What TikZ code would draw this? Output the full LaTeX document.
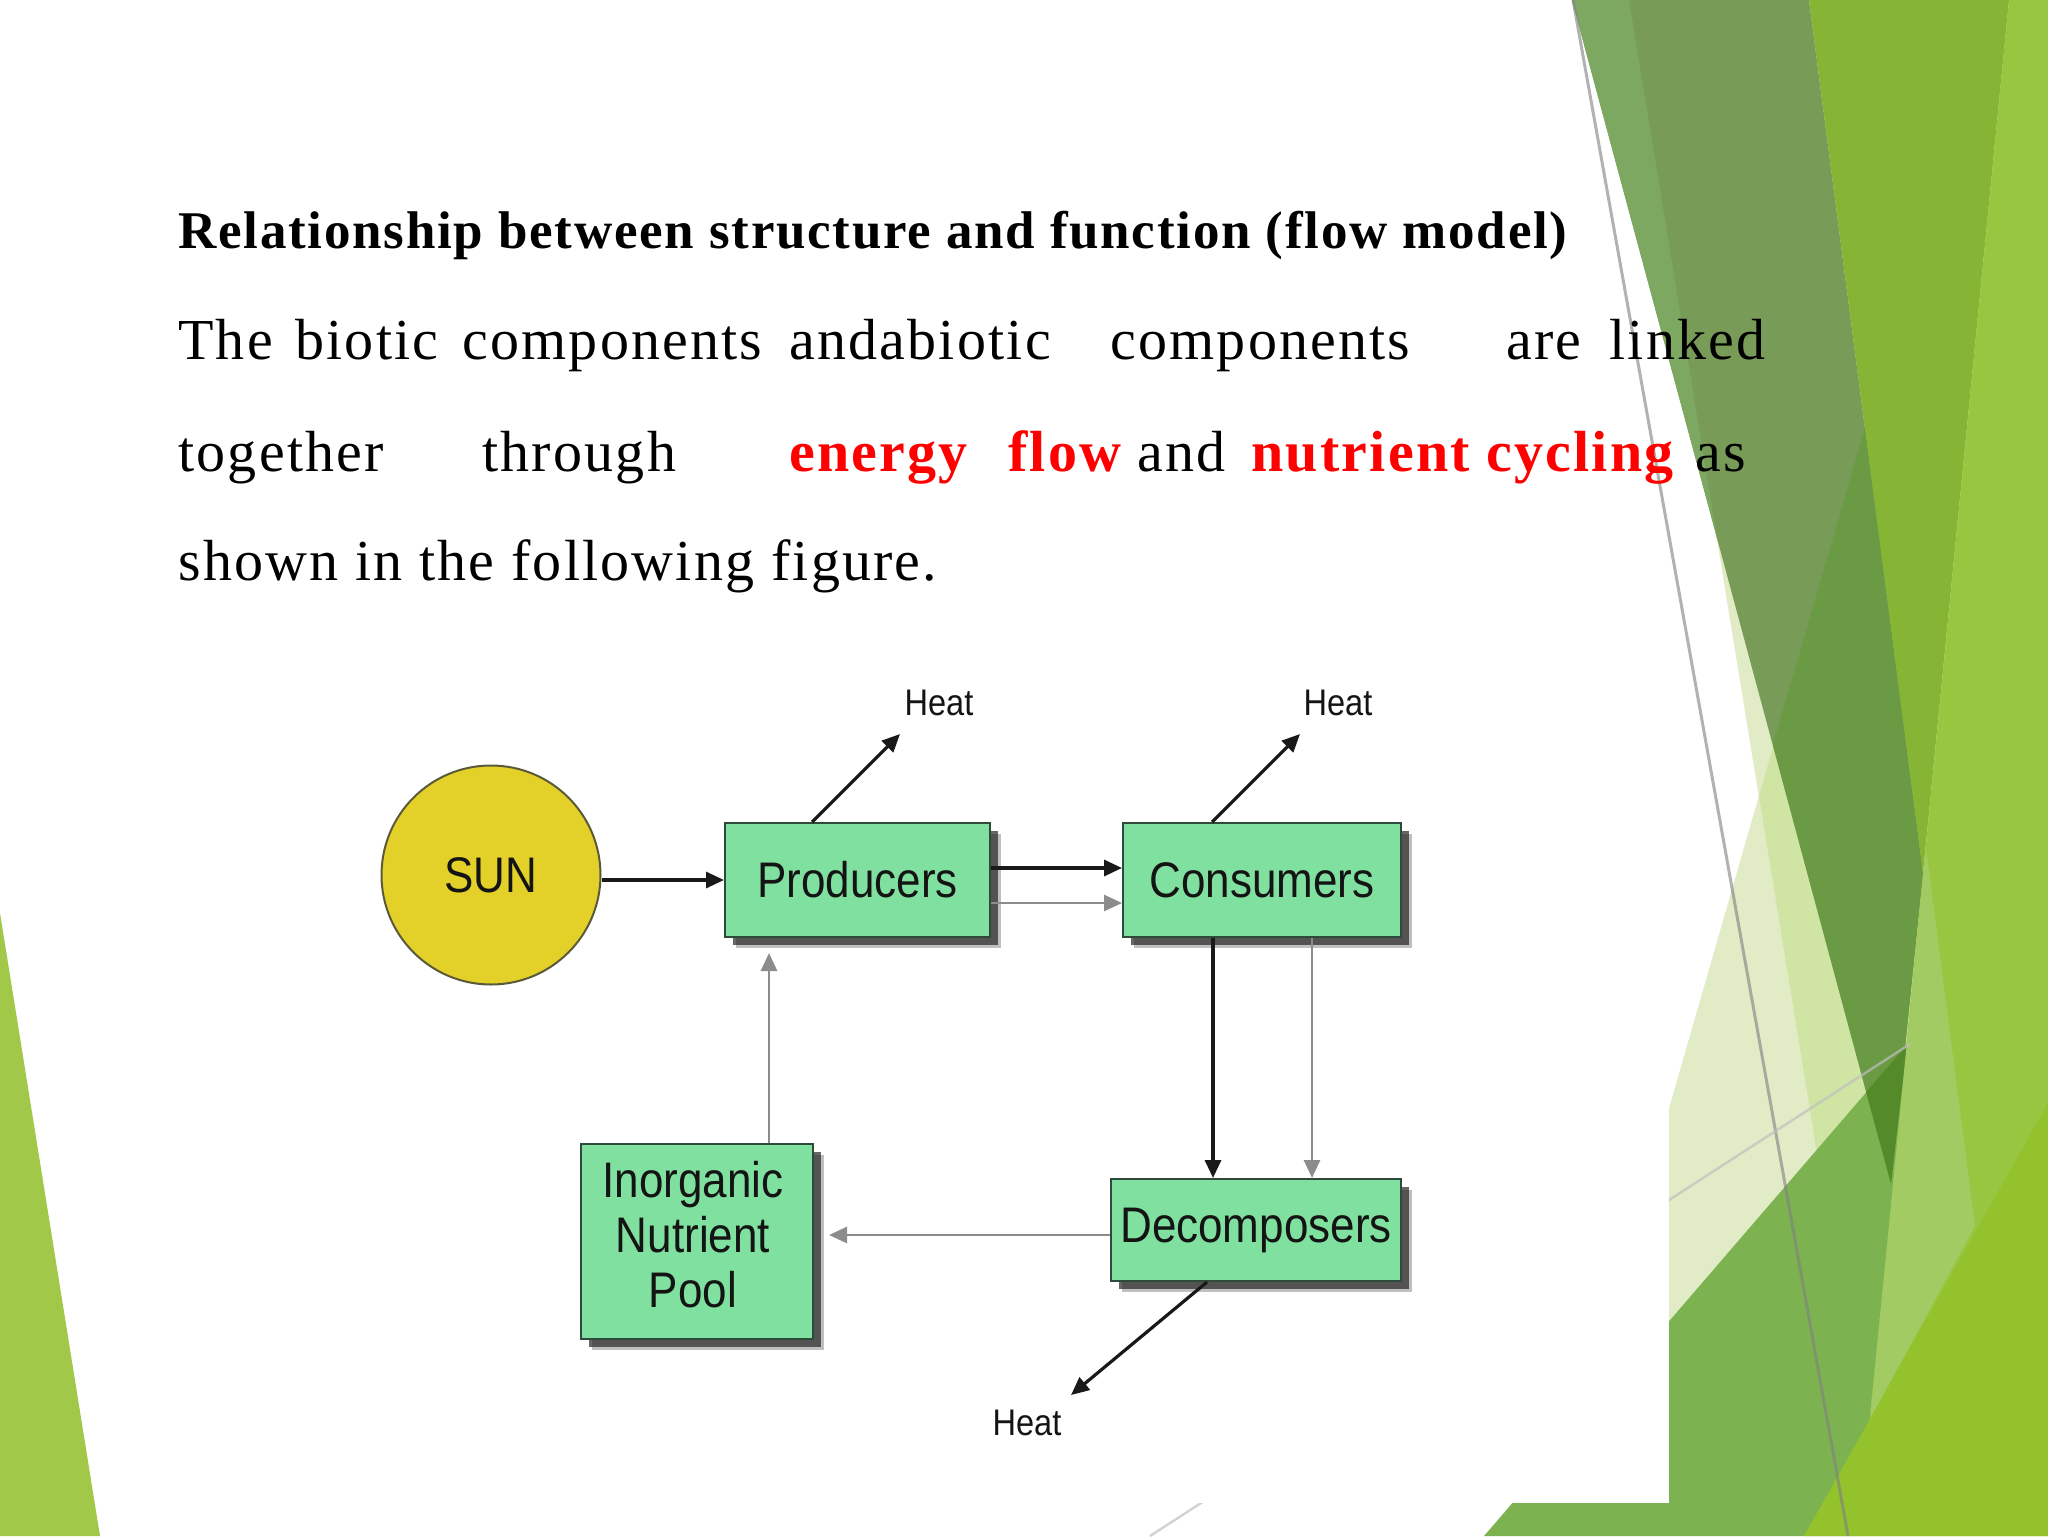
\documentclass[tikz,border=0pt]{standalone}
\usepackage{fontspec}
\usepackage{graphicx}
\setmainfont{Liberation Serif}
\newfontfamily\bodyfont[LetterSpace=3.8]{Liberation Serif}
\newfontfamily\titlefont[LetterSpace=3.3]{Liberation Serif}
\newfontfamily\diagfont{Liberation Sans}
\usetikzlibrary{arrows.meta,shadows}
\definecolor{olivemain}{HTML}{789C57}
\definecolor{oliveband}{HTML}{7DA862}
\definecolor{olivedark}{HTML}{6B9A44}
\definecolor{tipdark}{HTML}{558A2A}
\definecolor{brightgreen}{HTML}{86B535}
\definecolor{limegreen}{HTML}{99C640}
\definecolor{lightlime}{HTML}{A3CB64}
\definecolor{biglime}{HTML}{93C22D}
\definecolor{medgreen}{HTML}{7CB24F}
\definecolor{verypale}{HTML}{E1EBC6}
\definecolor{lightpale}{HTML}{D0E4A3}
\definecolor{leftgreen}{HTML}{A2C84A}
\definecolor{boxfill}{HTML}{80E0A0}
\definecolor{boxline}{HTML}{2E4A38}
\definecolor{sunfill}{HTML}{E3D028}
\definecolor{sunline}{HTML}{5A5A3A}
\definecolor{arrowgray}{HTML}{8C8C8C}
\definecolor{diagtext}{HTML}{141414}
\definecolor{slidered}{HTML}{FF0000}
\begin{document}
\begin{tikzpicture}[x=0.5pt,y=-0.5pt,
  bodyword/.style={anchor=base west, inner sep=0, font=\bodyfont\fontsize{29pt}{35pt}\selectfont},
  redword/.style={anchor=base west, inner sep=0, text=slidered, font=\bodyfont\bfseries\fontsize{29pt}{35pt}\selectfont},
  titletext/.style={anchor=base west, inner sep=0, font=\titlefont\bfseries\fontsize{26.5pt}{32pt}\selectfont},
  flowbox/.style={draw=boxline, line width=1pt, fill=boxfill, inner sep=0, text=diagtext,
    font=\diagfont\fontsize{25pt}{27.5pt}\selectfont,
    drop shadow={shadow xshift=5.5pt, shadow yshift=-5.5pt, fill=black, opacity=.25},
    drop shadow={shadow xshift=3.8pt, shadow yshift=-3.8pt, fill=black!85, opacity=.7}},
  sunstyle/.style={circle, draw=sunline, line width=1pt, fill=sunfill, inner sep=0, text=diagtext,
    font=\diagfont\fontsize{25pt}{27.5pt}\selectfont, minimum size=109.5pt},
  heatlabel/.style={inner sep=0, text=diagtext, font=\diagfont\fontsize{18.5pt}{20pt}\selectfont},
  blackarrow/.style={draw=black!90, line width=1.6pt, -{Triangle[length=9pt,width=8pt]}},
  grayarrow/.style={draw=arrowgray, line width=1.4pt, -{Triangle[length=9pt,width=8pt]}}
]
\useasboundingbox (0,0) rectangle (2048,1536);
\fill[white] (0,0) rectangle (2048,1536);

% ---- decorative facets ----
\fill[verypale] (1629,0) -- (1816.5,1150) -- (1907,1045) -- (2009,0) -- cycle;
\fill[verypale] (1988,0) -- (1577,1428) -- (1907,1045) -- (2009,0) -- cycle;
\fill[lightpale] (1988,0) -- (1759,796) -- (1816.5,1150) -- (1907,1045) -- (2009,0) -- cycle;
\fill[olivemain] (1572,0) -- (1809,0) -- (1923,873) -- (1891,1184) -- cycle;
\fill[oliveband] (1572,0) -- (1629,0) -- (1717,538) -- cycle;
\fill[olivedark] (1865,427) -- (1923,873) -- (1891,1184) -- (1773,745) -- cycle;
\fill[brightgreen] (1809,0) -- (2009,0) -- (1923,873) -- cycle;
\fill[limegreen] (2009,0) -- (2048,0) -- (2048,1536) -- (1858,1536) -- cycle;
\fill[medgreen] (1907,1045) -- (1858,1536) -- (1484,1536) -- cycle;
\fill[tipdark] (1866,1092) -- (1907,1045) -- (1891,1184) -- cycle;
\fill[lightlime] (1926,848) -- (1975,1226) -- (1870,1419) -- cycle;
\fill[biglime] (2048,1103) -- (2048,1536) -- (1804,1536) -- cycle;
\draw[gray, opacity=.6, line width=1.5] (1573,0) -- (1848,1536);
\draw[black!25, opacity=.7, line width=1.2] (1150,1536) -- (1910,1044);
\fill[leftgreen] (0,913) -- (100,1536) -- (0,1536) -- cycle;

% ---- picture area ----
\fill[white] (163,614) rectangle (1669,1503);

% ---- text ----
\node[titletext] (title) at (178,248) {Relationship between structure and function (flow model)};

\node[bodyword] (w1) at (178,359) {The};
\node[bodyword] (w2) at (295,359) {biotic};
\node[bodyword] (w3) at (462,359) {components};
\node[bodyword] (w4) at (789,359) {andabiotic};
\node[bodyword] (w5) at (1110,359) {components};
\node[bodyword] (w6) at (1506,359) {are};
\node[bodyword] (w7) at (1609,359) {linked};

\node[bodyword] (v1) at (178,471) {together};
\node[bodyword] (v2) at (482,471) {through};
\node[redword] (v3) at (789,471) {energy};
\node[redword] (v4) at (1008,471) {flow};
\node[bodyword] (v5) at (1137,471) {and};
\node[redword] (v6) at (1251,471) {nutrient cycling};
\node[bodyword] (v7) at (1695,471) {as};

\node[bodyword] (u1) at (178,580) {shown in the following figure.};

% ---- diagram ----
\node[sunstyle] (sun) at (491,875) {\scalebox{0.88}[1]{SUN}};
\node[flowbox, minimum width=132.5pt, minimum height=57pt] (prod) at (857.5,880) {\scalebox{0.88}[1]{Producers}};
\node[flowbox, minimum width=139pt, minimum height=57pt] (cons) at (1262,880) {\scalebox{0.88}[1]{Consumers}};
\node[flowbox, minimum width=145pt, minimum height=51pt] (deco) at (1256,1230) {\scalebox{0.88}[1]{Decomposers}};
\node[flowbox, minimum width=116pt, minimum height=97.5pt] (pool) at (697,1241.5)
  {\raisebox{-2.5pt}{\hspace{-4pt}\scalebox{0.88}[1]{\begin{tabular}{@{}c@{}}Inorganic\\Nutrient\\Pool\end{tabular}}}};

\node[heatlabel] (heat1) at (939,703) {\scalebox{0.88}[1]{Heat}};
\node[heatlabel] (heat2) at (1338,703) {\scalebox{0.88}[1]{Heat}};
\node[heatlabel] (heat3) at (1027,1423) {\scalebox{0.88}[1]{Heat}};

\coordinate (h1tip) at (900,734);
\coordinate (h2tip) at (1300,734);
\coordinate (h3tip) at (1071,1395);

\draw[blackarrow] (prod.west -| sun.east) -- (prod.west);
\draw[blackarrow] ([yshift=6pt]prod.east) -- ([yshift=6pt]cons.west);
\draw[grayarrow] ([yshift=-11.5pt]prod.east) -- ([yshift=-11.5pt]cons.west);
\draw[blackarrow] ([xshift=-22.75pt]prod.north) -- (h1tip);
\draw[blackarrow] ([xshift=-25pt]cons.north) -- (h2tip);

\coordinate (c1) at ([xshift=-24.5pt]cons.south);
\coordinate (c2) at ([xshift=25pt]cons.south);
\draw[blackarrow] (c1) -- (c1 |- deco.north);
\draw[grayarrow] (c2) -- (c2 |- deco.north);

\coordinate (d1) at ([yshift=-2.5pt]deco.west);
\path (d1 -| pool.east) ++(15,0) coordinate (d2);
\draw[grayarrow] (d1) -- (d2);

\coordinate (p1) at ([xshift=36pt]pool.north);
\path (p1 |- prod.south) ++(0,15) coordinate (p2);
\draw[grayarrow] (p1) -- (p2);

\draw[blackarrow] ([xshift=-24.5pt]deco.south) -- (h3tip);
\end{tikzpicture}
\end{document}
